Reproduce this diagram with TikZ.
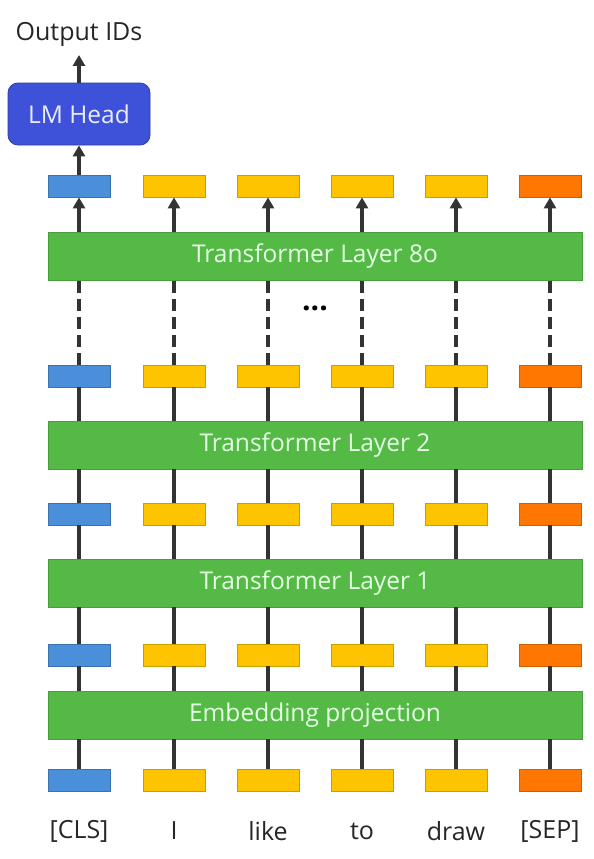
\documentclass[tikz,border=0pt]{standalone}
\usepackage{fontspec}
\setmainfont{Open Sans}
\usetikzlibrary{arrows.meta,positioning}

\definecolor{tokblue}{HTML}{4A8FDA}
\definecolor{tokyellow}{HTML}{FFC400}
\definecolor{tokorange}{HTML}{FF7700}
\definecolor{layergreen}{HTML}{55B946}
\definecolor{headblue}{HTML}{3D52D9}
\definecolor{linkgray}{HTML}{333333}

\begin{document}
\begin{tikzpicture}[x=1pt, y=-1pt,
    tok/.style={draw=#1!80!black, fill=#1, line width=0.8pt,
      minimum width=62pt, minimum height=22pt, inner sep=0pt},
    layer/.style={draw=layergreen!85!black, fill=layergreen, line width=0.8pt,
      minimum width=534pt, minimum height=48pt, inner sep=0pt,
      text=white!90!green, font=\fontsize{24.5}{28}\selectfont},
    head/.style={draw=headblue!75!black, fill=headblue, line width=0.8pt,
      rounded corners=10pt, minimum width=142pt, minimum height=62pt,
      text=white!92!blue, font=\fontsize{24.5}{28}\selectfont},
    word/.style={text=black!85, font=\fontsize{25}{28}\selectfont},
    link/.style={draw=linkgray, line width=3.6pt},
    up/.style={link, -{Triangle[width=12pt,length=11pt]}},
    skip/.style={link, dash pattern=on 12pt off 6pt}]
  \useasboundingbox (0,0) rectangle (594,859);

  % token vectors, one column per word
  \foreach \c/\x/\col in {1/79/tokblue, 2/174/tokyellow, 3/268/tokyellow,
                          4/362/tokyellow, 5/456/tokyellow, 6/550/tokorange}
    \foreach \r/\y in {0/780, 1/655, 2/514, 3/376, 4/186}
      \node[tok=\col] (t\r\c) at (\x,\y) { };

  % layers
  \node[layer] (emb) at (315,715) {Embedding projection};
  \node[layer] (L1)  at (315,583) {Transformer Layer 1};
  \node[layer] (L2)  at (315,445) {Transformer Layer 2};
  \node[layer] (L80) at (315,256) {Transformer Layer 8o};

  \node[head] (head) at (79,114) {LM Head};
  \node[word] (out)  at (79,34)  {Output IDs};
  \coordinate (outtip) at (79,55);

  \node[font=\fontsize{30}{30}\selectfont\bfseries] (dots) at (315,308) {...};

  % input words
  \node[word] (w1) at (79,831)  {[CLS]};
  \node[word] (w2) at (174,831) {I};
  \node[word] (w3) at (268,831) {like};
  \node[word] (w4) at (362,831) {to};
  \node[word] (w5) at (456,831) {draw};
  \node[word] (w6) at (550,831) {[SEP]};

  \foreach \c in {1,...,6} {
    \draw[link] (t0\c.north) -- (t0\c.north |- emb.south);
    \draw[link] (t0\c.north |- emb.north) -- (t1\c.south);
    \draw[link] (t1\c.north) -- (t1\c.north |- L1.south);
    \draw[link] (t1\c.north |- L1.north) -- (t2\c.south);
    \draw[link] (t2\c.north) -- (t2\c.north |- L2.south);
    \draw[link] (t2\c.north |- L2.north) -- (t3\c.south);
    \draw[skip] (t3\c.north) -- (t3\c.north |- L80.south);
    \draw[up]   (t3\c.north |- L80.north) -- (t4\c.south);
  }

  \draw[up] (t41.north) -- (head.south);
  \draw[up] (head.north) -- (outtip);
\end{tikzpicture}
\end{document}
